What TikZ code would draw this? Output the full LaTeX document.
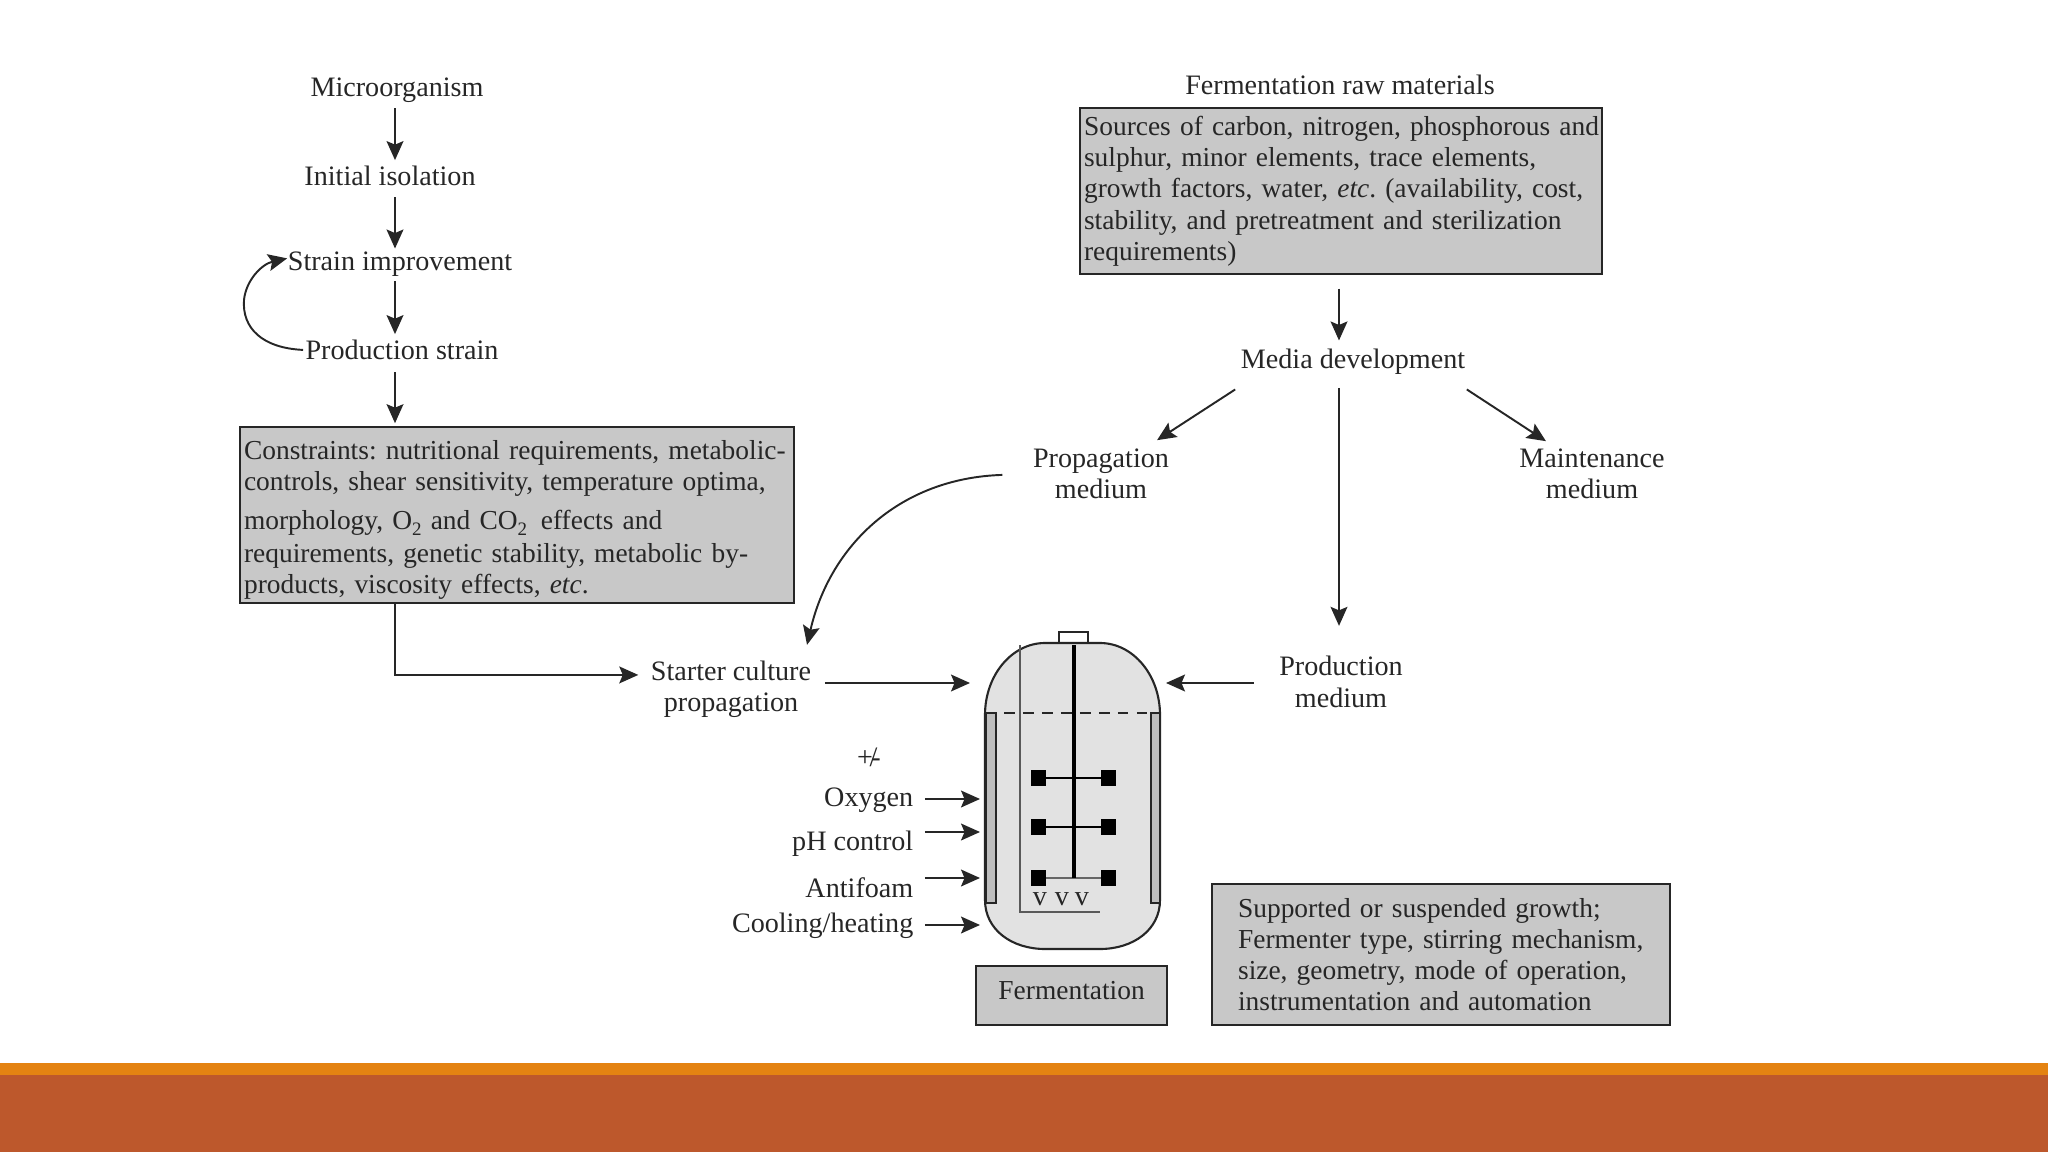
\documentclass[tikz,border=0pt]{standalone}
\usepackage{fontspec}
\setmainfont{Liberation Serif}
\usetikzlibrary{arrows.meta}
\definecolor{inkdark}{RGB}{38,38,38}
\definecolor{boxgray}{RGB}{200,200,200}
\definecolor{vesselgray}{RGB}{226,226,226}
\definecolor{barorange}{RGB}{228,131,18}
\definecolor{barrust}{RGB}{189,88,44}
\newcommand{\subtwo}{\raisebox{-1.6pt}{\fontsize{5.4}{6}\selectfont 2}}
\tikzset{
  lbl/.style={inner sep=0pt,text=inkdark,align=center,font=\fontsize{8}{8.9}\selectfont\frenchspacing},
  graybox/.style={lbl,draw=inkdark,line width=0.6pt,fill=boxgray,anchor=north west,align=left,inner sep=1pt,font=\fontsize{7.8}{8.9}\selectfont\frenchspacing},
  arr/.style={-{Stealth[length=5.4pt,width=4.8pt,inset=1pt]},inkdark,line width=0.55pt},
  blade/.style={fill=black,minimum size=0.15cm,inner sep=0pt},
}
\begin{document}
\begin{tikzpicture}[x=0.01cm,y=-0.01cm]
  \useasboundingbox (0,0) rectangle (2048,1152);
  % footer bars
  \fill[barorange] (0,1063) rectangle (2048,1075);
  \fill[barrust] (0,1075) rectangle (2048,1152);
  % left column
  \coordinate (col) at (395,0);
  \node[lbl] (micro) at (397,90) {Microorganism};
  \node[lbl] (isol) at (390,176) {Initial isolation};
  \node[lbl] (improve) at (400,264) {Strain improvement};
  \node[lbl] (prodstrain) at (402,350) {Production strain};
  \node[graybox,minimum width=5.54cm,minimum height=1.76cm,text width=5.46cm] (constraints) at (239,426) {\rule{0pt}{8pt}\mbox{Constraints: nutritional requirements, metabolic-}\\
    controls, shear sensitivity, temperature optima,\\[2.3pt]
    morphology, O\subtwo{} and CO\subtwo\, effects and\\[0.3pt]
    requirements, genetic stability, metabolic by-\\
    products, viscosity effects, \textit{etc}.};
  \draw[arr,shorten <=1.5pt,shorten >=1.5pt] (micro.south -| col) -- (isol.north -| col);
  \draw[arr,shorten <=3pt,shorten >=0.7pt] (isol.south -| col) -- (improve.north -| col);
  \draw[arr,shorten <=1.2pt,shorten >=1.5pt] (improve.south -| col) -- (prodstrain.north -| col);
  \draw[arr,shorten <=3.3pt,shorten >=0.8pt] (prodstrain.south -| col) -- (constraints.north -| col);
  \draw[arr,shorten <=0.5pt] (prodstrain.west) .. controls (262,348) and (242,328) .. (244,300) .. controls (246,280) and (262,264) .. ([yshift=1.6pt]improve.west);
  % right column
  \coordinate (mid) at (1339,0);
  \node[lbl] (rawtitle) at (1340,85) {Fermentation raw materials};
  \node[graybox,minimum width=5.22cm,minimum height=1.66cm,text width=5.14cm] (raw) at (1079,107) {\mbox{Sources of carbon, nitrogen, phosphorous and}\\
    sulphur, minor elements, trace elements,\\
    growth factors, water, \textit{etc}. (availability, cost,\\
    stability, and pretreatment and sterilization\\
    requirements)};
  \node[lbl] (media) at (1353,362) {Media development};
  \node[lbl] (prop) at (1101,474) {Propagation\\medium};
  \node[lbl] (maint) at (1592,474) {Maintenance\\medium};
  \node[lbl] (prod) at (1341,682) {Production\\medium};
  \node[lbl] (starter) at (731,689) {Starter culture\\propagation};
  \draw[arr,shorten <=3.8pt,shorten >=2.3pt] (raw.south -| mid) -- (media.north -| mid);
  \draw[arr,shorten <=3.5pt,shorten >=8.5pt] (media.south -| mid) -- (prod.north -| mid);
  \draw[arr] ([shift={(-0.05cm,-0.14cm)}]media.south west) -- ([shift={(0.56cm,0.08cm)}]prop.north);
  \draw[arr] ([shift={(0.01cm,-0.14cm)}]media.south east) -- ([shift={(-0.46cm,0.07cm)}]maint.north);
  \draw[arr,shorten <=8.5pt] (prop.west) .. controls (900,478) and (830,545) .. ([shift={(0.76cm,0.15cm)}]starter.north);
  \draw[arr,shorten >=3.4pt] (constraints.south -| col) |- ([yshift=4pt]starter.west);
  % fermenter vessel
  \coordinate (vesselL) at (970,683);
  \coordinate (vesselR) at (1166,683);
  \draw[inkdark,line width=0.55pt,fill=white] (1059,632) rectangle (1088,645);
  \draw[inkdark,line width=0.6pt,fill=vesselgray] (985,715) .. controls (985,675) and (1012,643) .. (1045,643) -- (1100,643) .. controls (1133,643) and (1160,675) .. (1160,715) -- (1160,900) .. controls (1160,930) and (1133,949) .. (1100,949) -- (1045,949) .. controls (1012,949) and (985,930) .. (985,900) -- cycle;
  \draw[inkdark,line width=0.5pt,fill=boxgray!95!black] (986,713) rectangle (996,903);
  \draw[inkdark,line width=0.5pt,fill=boxgray!95!black] (1151,713) rectangle (1160,903);
  \draw[inkdark,line width=0.5pt,dash pattern=on 3pt off 2.4pt] (985,713) -- (1160,713);
  \draw[black!65,line width=0.75pt] (1020,645) -- (1020,912) -- (1100,912);
  \foreach \y/\c in {778/black,827/black,878/black!60}
    \draw[\c,line width=0.6pt] (1038,\y) -- (1108,\y);
  \draw[black,line width=1.4pt] (1074,645) -- (1074,878);
  \foreach \y in {778,827,878} {
    \node[blade] (bladeL\y) at (1038,\y) {};
    \node[blade] (bladeR\y) at (1108,\y) {};
  }
  \foreach \x in {1040,1062,1082}
    \node[lbl] (bubble\x) at (\x,899) {v};
  \draw[arr,shorten <=3.7pt] (starter.east |- vesselL) -- (vesselL);
  \draw[arr,shorten <=7pt] (prod.west |- vesselR) -- (vesselR);
  % inputs on the left of the vessel
  \node[lbl] (plusminus) at (869,757) {+\kern-1pt/\kern-1.7pt-};
  \node[lbl,anchor=east] (oxygen) at (914,800) {Oxygen};
  \node[lbl,anchor=east] (ph) at (914,844) {pH control};
  \node[lbl,anchor=east] (antifoam) at (914,888) {Antifoam};
  \node[lbl,anchor=east] (cooling) at (914,926) {Cooling/heating};
  \coordinate (inOxygen) at (980,799);
  \coordinate (inPh) at (980,832);
  \coordinate (inAntifoam) at (980,878);
  \coordinate (inCooling) at (980,925);
  \draw[arr,shorten <=3.1pt] (oxygen.east |- inOxygen) -- (inOxygen);
  \draw[arr,shorten <=3.1pt] (ph.east |- inPh) -- (inPh);
  \draw[arr,shorten <=3.1pt] (antifoam.east |- inAntifoam) -- (inAntifoam);
  \draw[arr,shorten <=3.1pt] (cooling.east |- inCooling) -- (inCooling);
  % lower boxes
  \node[graybox,align=center,minimum width=1.91cm,minimum height=0.59cm] (ferm) at (975,965) {Fermentation\rule[-3pt]{0pt}{1pt}};
  \node[graybox,minimum width=4.58cm,minimum height=1.41cm,text width=4.06cm,inner xsep=0.26cm] (growth) at (1211,883) {Supported or suspended growth;\\
    \mbox{Fermenter type, stirring mechanism,}\\
    size, geometry, mode of operation,\\
    instrumentation and automation};
\end{tikzpicture}
\end{document}
